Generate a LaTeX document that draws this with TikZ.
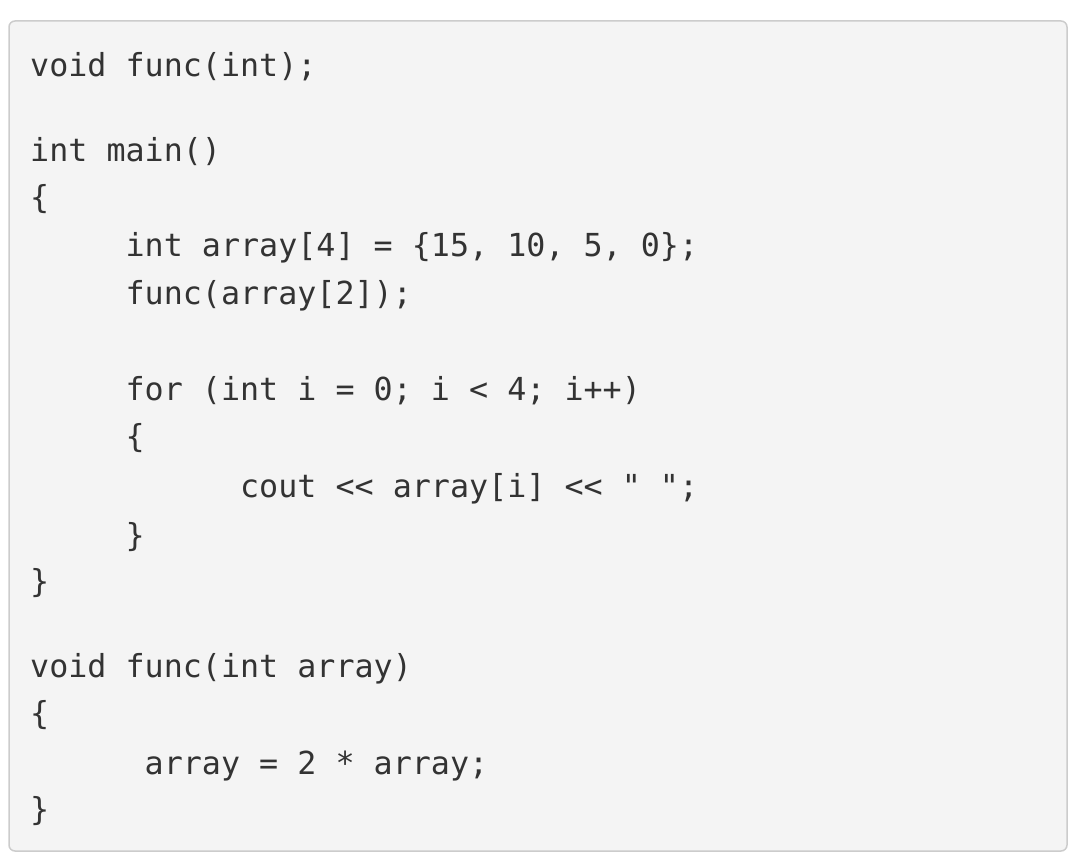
\documentclass[tikz,border=0pt]{standalone}
\usepackage{fontspec}
\setmonofont{DejaVu Sans Mono}
\definecolor{codebg}{HTML}{F4F4F4}
\definecolor{codeborder}{HTML}{CCCCCC}
\definecolor{codetext}{HTML}{333333}
\begin{document}
\begin{tikzpicture}[x=1pt,y=-1pt,
  codeline/.style={anchor=base west,inner sep=0pt,font=\ttfamily\fontsize{31.7}{31.7}\selectfont,text=codetext}]
\useasboundingbox (0,0) rectangle (1084,858);
\draw[codeborder,fill=codebg,line width=1.5pt,rounded corners=6pt] (9,21) rectangle (1067,851);
\node[codeline] (l1) at (30,77) {void func(int);};
\node[codeline] (l2) at (30,162) {int main()};
\node[codeline] (l3) at (30,209) {\{};
\node[codeline] (l4) at (30,257) {\ \ \ \ \ int array[4] = \{15, 10, 5, 0\};};
\node[codeline] (l5) at (30,305) {\ \ \ \ \ func(array[2]);};
\node[codeline] (l6) at (30,400) {\ \ \ \ \ for (int i = 0; i < 4; i++)};
\node[codeline] (l7) at (30,447) {\ \ \ \ \ \{};
\node[codeline] (l8) at (30,497) {\ \ \ \ \ \ \ \ \ \ \ cout << array[i] << "\ ";};
\node[codeline] (l9) at (30,546) {\ \ \ \ \ \}};
\node[codeline] (l10) at (30,592) {\}};
\node[codeline] (l11) at (30,677) {void func(int array)};
\node[codeline] (l12) at (30,724) {\{};
\node[codeline] (l13) at (30,774) {\ \ \ \ \ \ array = 2 * array;};
\node[codeline] (l14) at (30,820) {\}};
\end{tikzpicture}
\end{document}
